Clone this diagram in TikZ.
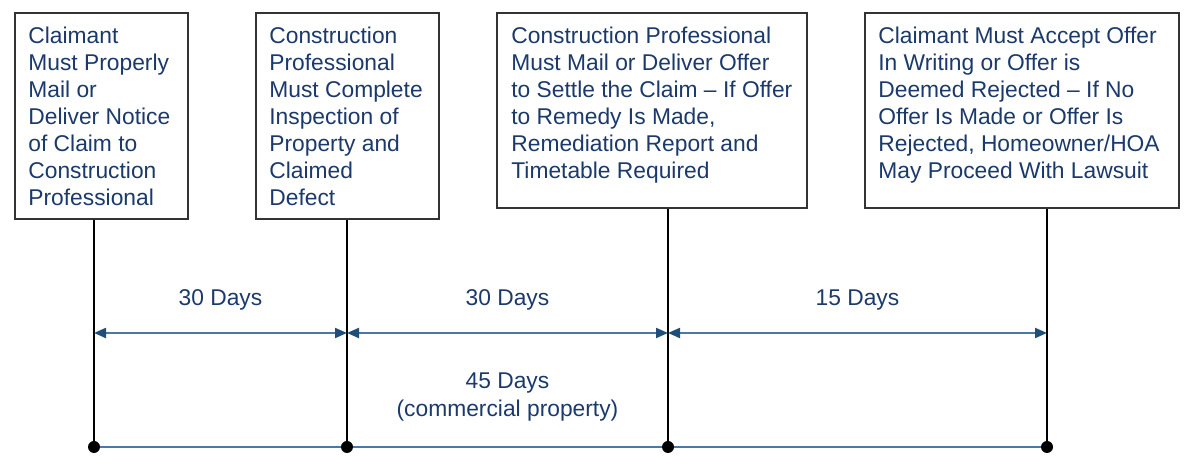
\documentclass[tikz,border=0pt]{standalone}
\usepackage{fontspec}
\setmainfont{Liberation Sans}
\usepackage{xcolor}
\usepackage{tikz}
\usetikzlibrary{positioning,arrows.meta,calc}
\definecolor{CDnavy}{HTML}{1B3A6B}
\definecolor{CDblue}{HTML}{4A78A8}
\definecolor{CDblueDark}{HTML}{1F4E79}
\definecolor{CDframe}{HTML}{333333}
\tikzset{
  eventbox/.style={draw=CDframe, line width=0.8pt, fill=white, anchor=north west, inner sep=0pt},
  eventtext/.style={anchor=north west, inner sep=0pt, align=left, text=CDnavy, font=\fontsize{11.4}{13.5}\selectfont},
  daylabel/.style={inner sep=0pt, align=center, text=CDnavy, font=\fontsize{11.4}{14}\selectfont},
  stemline/.style={line width=0.7pt, draw=black},
  spanarr/.style={{Triangle[length=6pt,width=5pt,color=CDblueDark]}-{Triangle[length=6pt,width=5pt,color=CDblueDark]}, line width=1pt, draw=CDblue},
  axisline/.style={line width=1.2pt, draw=CDblue},
  tickdot/.style={circle, fill=black, inner sep=0pt, minimum size=6pt}
}

\begin{document}
\begin{tikzpicture}[x=0.5pt, y=0.5pt]
  \useasboundingbox (0,0) rectangle (1200,475);
  % event boxes
  \node[eventbox, minimum width=86.5pt, minimum height=103pt] (b1) at (14,463) {};
  \node[eventbox, minimum width=91.5pt, minimum height=103pt] (b2) at (255,463) {};
  \node[eventbox, minimum width=155pt, minimum height=97.5pt] (b3) at (496,463) {};
  \node[eventbox, minimum width=157pt, minimum height=97.5pt] (b4) at (864,463) {};
  \node[eventtext] (t1) at (28,448) {Claimant\\Must Properly\\Mail or\\Deliver Notice\\of Claim to\\Construction\\Professional};
  \node[eventtext] (t2) at (269,448) {Construction\\Professional\\Must Complete\\Inspection of\\Property and\\Claimed\\Defect};
  \node[eventtext] (t3) at (511,448) {Construction Professional\\Must Mail or Deliver Offer\\to Settle the Claim -- If Offer\\to Remedy Is Made,\\Remediation Report and\\Timetable Required};
  \node[eventtext] (t4) at (878,448) {Claimant Must Accept Offer\\In Writing or Offer is\\Deemed Rejected -- If No\\Offer Is Made or Offer Is\\Rejected, Homeowner/HOA\\May Proceed With Lawsuit};

  % time axis
  \coordinate (d1) at (94,28);
  \coordinate (d2) at (347,28);
  \coordinate (d3) at (668,28);
  \coordinate (d4) at (1047,28);
  \draw[stemline] (b1.south -| d1) -- (d1);
  \draw[stemline] (b2.south -| d2) -- (d2);
  \draw[stemline] (b3.south -| d3) -- (d3);
  \draw[stemline] (b4.south -| d4) -- (d4);
  \draw[axisline] (d1) -- (d4);
  \node[tickdot] (p1) at (d1) {};
  \node[tickdot] (p2) at (d2) {};
  \node[tickdot] (p3) at (d3) {};
  \node[tickdot] (p4) at (d4) {};

  % spans
  \coordinate (arrowrow) at (0,142);
  \coordinate (a1) at (d1 |- arrowrow);
  \coordinate (a2) at (d2 |- arrowrow);
  \coordinate (a3) at (d3 |- arrowrow);
  \coordinate (a4) at (d4 |- arrowrow);
  \draw[spanarr] (a1) -- node[daylabel, above=11pt] (l1) {30 Days} (a2);
  \draw[spanarr] (a2) -- node[daylabel, above=11pt] (l2) {30 Days}
    node[daylabel, below=19.3pt] (l4) {45 Days\\(commercial property)} (a3);
  \draw[spanarr] (a3) -- node[daylabel, above=11pt] (l3) {15 Days} (a4);
\end{tikzpicture}
\end{document}
